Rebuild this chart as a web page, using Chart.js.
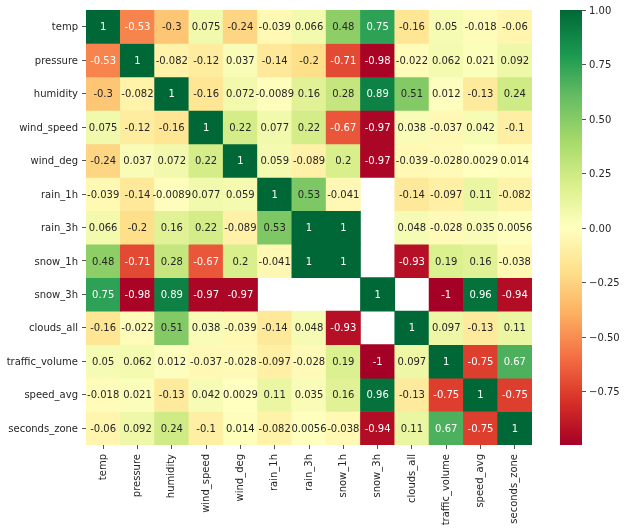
<!DOCTYPE html>
<html>
<head>
<meta charset="utf-8">
<style>
html,body{margin:0;padding:0;background:#fff;width:626px;height:531px;overflow:hidden}
canvas{position:absolute;top:0}
#heat{left:0}
#bar{left:560px}
</style>
<script src="https://cdn.jsdelivr.net/npm/chart.js@4"></script>
</head>
<body>
<canvas id="heat" width="626" height="531"></canvas>
<canvas id="bar" width="66" height="531"></canvas>
<script>
const categories = ['temp','pressure','humidity','wind_speed','wind_deg','rain_1h','rain_3h','snow_1h','snow_3h','clouds_all','traffic_volume','speed_avg','seconds_zone'];
const temp = [1,-0.53,-0.3,0.075,-0.24,-0.039,0.066,0.48,0.75,-0.16,0.05,-0.018,-0.06];
const pressure = [-0.53,1,-0.082,-0.12,0.037,-0.14,-0.2,-0.71,-0.98,-0.022,0.062,0.021,0.092];
const humidity = [-0.3,-0.082,1,-0.16,0.072,-0.0089,0.16,0.28,0.89,0.51,0.012,-0.13,0.24];
const wind_speed = [0.075,-0.12,-0.16,1,0.22,0.077,0.22,-0.67,-0.97,0.038,-0.037,0.042,-0.1];
const wind_deg = [-0.24,0.037,0.072,0.22,1,0.059,-0.089,0.2,-0.97,-0.039,-0.028,0.0029,0.014];
const rain_1h = [-0.039,-0.14,-0.0089,0.077,0.059,1,0.53,-0.041,null,-0.14,-0.097,0.11,-0.082];
const rain_3h = [0.066,-0.2,0.16,0.22,-0.089,0.53,1,1,null,0.048,-0.028,0.035,0.0056];
const snow_1h = [0.48,-0.71,0.28,-0.67,0.2,-0.041,1,1,null,-0.93,0.19,0.16,-0.038];
const snow_3h = [0.75,-0.98,0.89,-0.97,-0.97,null,null,null,1,null,-1,0.96,-0.94];
const clouds_all = [-0.16,-0.022,0.51,0.038,-0.039,-0.14,0.048,-0.93,null,1,0.097,-0.13,0.11];
const traffic_volume = [0.05,0.062,0.012,-0.037,-0.028,-0.097,-0.028,0.19,-1,0.097,1,-0.75,0.67];
const speed_avg = [-0.018,0.021,-0.13,0.042,0.0029,0.11,0.035,0.16,0.96,-0.13,-0.75,1,-0.75];
const seconds_zone = [-0.06,0.092,0.24,-0.1,0.014,-0.082,0.0056,-0.038,-0.94,0.11,0.67,-0.75,1];
const rows = [temp,pressure,humidity,wind_speed,wind_deg,rain_1h,rain_3h,snow_1h,snow_3h,clouds_all,traffic_volume,speed_avg,seconds_zone];
const colorbarTicks = [-0.75,-0.5,-0.25,0,0.25,0.5,0.75,1];
const vmin = -0.995, vmax = 1;
const cmap = ['#a50026','#d73027','#f46d43','#fdae61','#fee08b','#ffffbf','#d9ef8b','#a6d96a','#66bd63','#1a9850','#006837'];

const FONT = 'DejaVu Sans';
const INK = '#262626';
Chart.defaults.animation = false;
Chart.defaults.font.family = FONT;
Chart.defaults.font.size = 10;
Chart.defaults.color = INK;

function hexRgb(h){return [1,3,5].map(i=>parseInt(h.slice(i,i+2),16));}
function rgbOf(v){
  const t = Math.min(1,Math.max(0,(v-vmin)/(vmax-vmin)))*(cmap.length-1);
  const i = Math.min(cmap.length-2,Math.floor(t)), f = t-i;
  const a = hexRgb(cmap[i]), b = hexRgb(cmap[i+1]);
  return a.map((c,k)=>Math.round(c+(b[k]-c)*f));
}
function lum(rgb){
  const l = rgb.map(c=>{c/=255;return c<=0.03928?c/12.92:Math.pow((c+0.055)/1.055,2.4);});
  return 0.2126*l[0]+0.7152*l[1]+0.0722*l[2];
}
function fmt(v){return String(v);}

const annotate = {
  id:'annotate',
  afterDatasetsDraw(chart){
    const c = chart.ctx;
    c.save();
    c.font = '10px "'+FONT+'"';
    c.textAlign='center'; c.textBaseline='middle';
    rows.forEach((row,r)=>{
      const els = chart.getDatasetMeta(r).data;
      row.forEach((v,k)=>{
        if(v===null) return;
        const e = els[k];
        c.fillStyle = lum(rgbOf(v))>0.408 ? INK : '#ffffff';
        c.fillText(fmt(v), e.x, (e.y+e.base)/2+1);
      });
    });
    c.restore();
  }
};

const labelNudge = {
  id:'labelNudge',
  beforeDraw(chart){
    const s = chart.scales.y;
    const items = s.getLabelItems();
    if(items._nudged) return;
    items.forEach(it=>{it.options.translation = [it.options.translation[0], it.options.translation[1]+1];});
    items._nudged = true;
  }
};

new Chart(document.getElementById('heat'),{
  type:'bar',
  plugins:[annotate,labelNudge],
  data:{
    labels:categories,
    datasets:rows.map((row,r)=>({
      label:categories[r],
      data:row.map(v=>v===null?null:[r,r+1]),
      backgroundColor:row.map(v=>v===null?'#ffffff':'rgb('+rgbOf(v).join(',')+')'),
      borderWidth:0,
      grouped:false,
      barPercentage:1,
      categoryPercentage:1
    }))
  },
  options:{
    responsive:false,
    devicePixelRatio:1,
    layout:{padding:{top:10,right:94,left:0,bottom:0}},
    plugins:{legend:{display:false},tooltip:{enabled:false}},
    scales:{
      x:{
        afterFit(s){s.height=86;},
        border:{display:false},
        grid:{offset:false,drawOnChartArea:false,drawTicks:true,tickLength:4,tickColor:INK,tickWidth:0.8},
        ticks:{maxRotation:90,minRotation:90,autoSkip:false,padding:5,color:INK,font:{size:10}}
      },
      y:{
        type:'linear',min:0,max:13,reverse:true,
        afterFit(s){s.width=86;},
        afterBuildTicks(s){s.ticks=categories.map((_,i)=>({value:i+0.5}));},
        border:{display:false},
        grid:{drawOnChartArea:false,drawTicks:true,tickLength:4,tickColor:INK,tickWidth:0.8},
        ticks:{autoSkip:false,padding:4,color:INK,font:{size:10},
          callback(v){return categories[Math.floor(v)];}}
      }
    }
  }
});

new Chart(document.getElementById('bar'),{
  type:'bar',
  plugins:[labelNudge],
  data:{
    labels:[''],
    datasets:[{
      data:[[vmin,vmax]],
      borderWidth:0,
      barPercentage:1,
      categoryPercentage:1,
      backgroundColor(ctx){
        const ca = ctx.chart.chartArea;
        if(!ca) return cmap[0];
        const g = ctx.chart.ctx.createLinearGradient(0,ca.bottom,0,ca.top);
        cmap.forEach((col,i)=>g.addColorStop(i/(cmap.length-1),col));
        return g;
      }
    }]
  },
  options:{
    responsive:false,
    devicePixelRatio:1,
    layout:{padding:{top:10,bottom:86,left:0,right:0}},
    plugins:{legend:{display:false},tooltip:{enabled:false}},
    scales:{
      x:{display:false},
      y:{
        position:'right',type:'linear',min:vmin,max:vmax,
        afterFit(s){s.width=44;},
        afterBuildTicks(s){s.ticks=colorbarTicks.map(v=>({value:v}));},
        border:{display:false},
        grid:{drawOnChartArea:false,drawTicks:true,tickLength:4,tickColor:INK,tickWidth:0.8},
        ticks:{padding:3,color:INK,font:{size:10},
          callback(v){return v.toFixed(2).replace('-','\u2212');}}
      }
    }
  }
});
</script>
</body>
</html>
